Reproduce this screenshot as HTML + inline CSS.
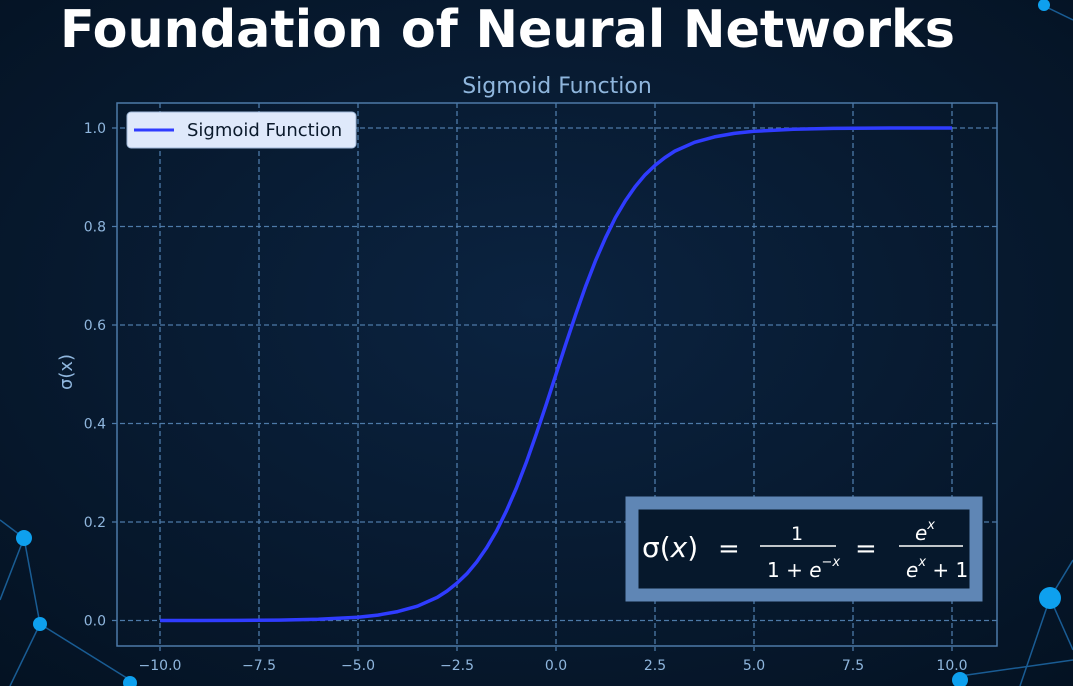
<!DOCTYPE html>
<html><head><meta charset="utf-8"><style>
html,body{margin:0;padding:0;width:1073px;height:686px;overflow:hidden;background:#06182c}
svg{display:block}
text{font-family:"DejaVu Sans","Liberation Sans",sans-serif}
</style></head><body>
<svg id="chart" width="1073" height="686" viewBox="0 0 1073 686">
<defs>
<radialGradient id="bg" cx="0.5" cy="0.45" r="0.75">
<stop offset="0" stop-color="#0b2340"/><stop offset="1" stop-color="#041222"/>
</radialGradient>
</defs>
<rect width="1073" height="686" fill="url(#bg)"/>
<g stroke="#1f6fb0" stroke-width="1.5" opacity="0.8">
<line x1="24" y1="538" x2="0" y2="520"/><line x1="24" y1="538" x2="40" y2="624"/><line x1="40" y1="624" x2="130" y2="680"/><line x1="40" y1="624" x2="10" y2="686"/><line x1="24" y1="538" x2="0" y2="600"/>
<line x1="1050" y1="598" x2="1020" y2="686"/><line x1="1050" y1="598" x2="1073" y2="650"/><line x1="1050" y1="598" x2="1073" y2="560"/><line x1="960" y1="676" x2="1073" y2="660"/>
<line x1="1040" y1="4" x2="1073" y2="20"/>
</g>
<g fill="#0ea0ee">
<circle cx="24" cy="538" r="8"/><circle cx="40" cy="624" r="7"/><circle cx="130" cy="683" r="7"/>
<circle cx="1050" cy="598" r="11"/><circle cx="960" cy="680" r="8"/><circle cx="1044" cy="5" r="6"/>
</g>
<text x="60" y="47" font-size="52" font-weight="bold" fill="#ffffff" textLength="895" lengthAdjust="spacingAndGlyphs">Foundation of Neural Networks</text>
<text x="557" y="93" font-size="22" fill="#8fb6dd" text-anchor="middle">Sigmoid Function</text>
<g id="grid"></g>
<rect x="117" y="103" width="880" height="543" fill="none" stroke="#4d7aa8" stroke-width="1.5"/>
<g id="ticks"></g>
<text transform="translate(72,372) rotate(-90)" font-size="18" fill="#8fb6dd" text-anchor="middle">σ(x)</text>
<path id="curve" fill="none" stroke="#2f3cff" stroke-width="3.5" stroke-linejoin="round"/>
<g>
<rect x="127" y="112" width="229" height="36" rx="4" fill="#dfe9fb" stroke="#9fb8d8"/>
<line x1="134" y1="130" x2="174" y2="130" stroke="#2f3cff" stroke-width="3"/>
<text x="187" y="136" font-size="18" fill="#0b1a2c">Sigmoid Function</text>
</g>
<g>
<rect x="632" y="503" width="344" height="92" fill="#06182c" stroke="#5f86b5" stroke-width="13"/>
<g fill="#ffffff">
<text x="642" y="557" font-size="28" font-family="DejaVu Serif,Liberation Serif,serif">σ(<tspan font-style="italic">x</tspan>)</text>
<text x="718" y="557" font-size="26" font-family="DejaVu Serif,serif">=</text>
<text x="797" y="540" font-size="19" text-anchor="middle" font-family="Liberation Serif,serif">1</text>
<line x1="760" y1="546" x2="836" y2="546" stroke="#fff" stroke-width="1.5"/>
<text x="767" y="577" font-size="20" font-family="Liberation Serif,serif">1 + <tspan font-style="italic">e</tspan><tspan font-size="13" dy="-11" font-style="italic">−x</tspan></text>
<text x="855" y="557" font-size="26" font-family="DejaVu Serif,serif">=</text>
<text x="925" y="540" font-size="20" text-anchor="middle" font-style="italic" font-family="Liberation Serif,serif">e<tspan font-size="13" dy="-11">x</tspan></text>
<line x1="899" y1="546" x2="963" y2="546" stroke="#fff" stroke-width="1.5"/>
<text x="906" y="577" font-size="20" font-family="Liberation Serif,serif"><tspan font-style="italic">e</tspan><tspan font-size="13" dy="-11" font-style="italic">x</tspan><tspan dy="11"> + 1</tspan></text>
</g>
</g>
</svg>
<script>
const xTicks = [-10, -7.5, -5, -2.5, 0, 2.5, 5, 7.5, 10];
const xTickLabels = ["−10.0","−7.5","−5.0","−2.5","0.0","2.5","5.0","7.5","10.0"];
const yTicks = [0, 0.2, 0.4, 0.6, 0.8, 1.0];
const yTickLabels = ["0.0","0.2","0.4","0.6","0.8","1.0"];
const xValues = [-10,-9,-8,-7,-6,-5,-4.5,-4,-3.5,-3,-2.75,-2.5,-2.25,-2,-1.75,-1.5,-1.25,-1,-0.75,-0.5,-0.25,0,0.25,0.5,0.75,1,1.25,1.5,1.75,2,2.25,2.5,2.75,3,3.5,4,4.5,5,6,7,8,9,10];
const yValues = [0.0000,0.0001,0.0003,0.0009,0.0025,0.0067,0.011,0.018,0.029,0.047,0.060,0.076,0.095,0.119,0.148,0.182,0.223,0.269,0.321,0.378,0.438,0.5,0.562,0.622,0.679,0.731,0.777,0.818,0.852,0.881,0.905,0.924,0.940,0.953,0.971,0.982,0.989,0.9933,0.9975,0.9991,0.9997,0.9999,1.0];
const NS = "http://www.w3.org/2000/svg";
function sx(v){ return 160 + (v + 10) * 39.6; }
function sy(v){ return 620.5 - v * 492.5; }
const grid = document.getElementById('grid'), ticks = document.getElementById('ticks');
xTicks.forEach((t,i)=>{
  const l = document.createElementNS(NS,'line');
  l.setAttribute('x1',sx(t)); l.setAttribute('x2',sx(t)); l.setAttribute('y1',103); l.setAttribute('y2',651);
  l.setAttribute('stroke','#4d7aa8'); l.setAttribute('stroke-dasharray','5,3'); l.setAttribute('stroke-width','1.3');
  
  
  grid.appendChild(l);
  const tx = document.createElementNS(NS,'text');
  tx.setAttribute('x',sx(t)); tx.setAttribute('y',670); tx.setAttribute('text-anchor','middle');
  tx.setAttribute('font-size','14'); tx.setAttribute('fill','#8fb6dd'); tx.textContent = xTickLabels[i];
  
  
  ticks.appendChild(tx);
});
yTicks.forEach((t,i)=>{
  const l = document.createElementNS(NS,'line');
  l.setAttribute('x1',112); l.setAttribute('x2',997); l.setAttribute('y1',sy(t)); l.setAttribute('y2',sy(t));
  l.setAttribute('stroke','#4d7aa8'); l.setAttribute('stroke-dasharray','5,3'); l.setAttribute('stroke-width','1.3');
  
  
  grid.appendChild(l);
  const tx = document.createElementNS(NS,'text');
  tx.setAttribute('x',106); tx.setAttribute('y',sy(t)+5); tx.setAttribute('text-anchor','end');
  tx.setAttribute('font-size','14'); tx.setAttribute('fill','#8fb6dd'); tx.textContent = yTickLabels[i];
  
  
  ticks.appendChild(tx);
});
let d = '';
xValues.forEach((x,i)=>{ d += (i? 'L':'M') + sx(x).toFixed(1) + ',' + sy(yValues[i]).toFixed(1); });
document.getElementById('curve').setAttribute('d', d);
</script>
</body></html>
